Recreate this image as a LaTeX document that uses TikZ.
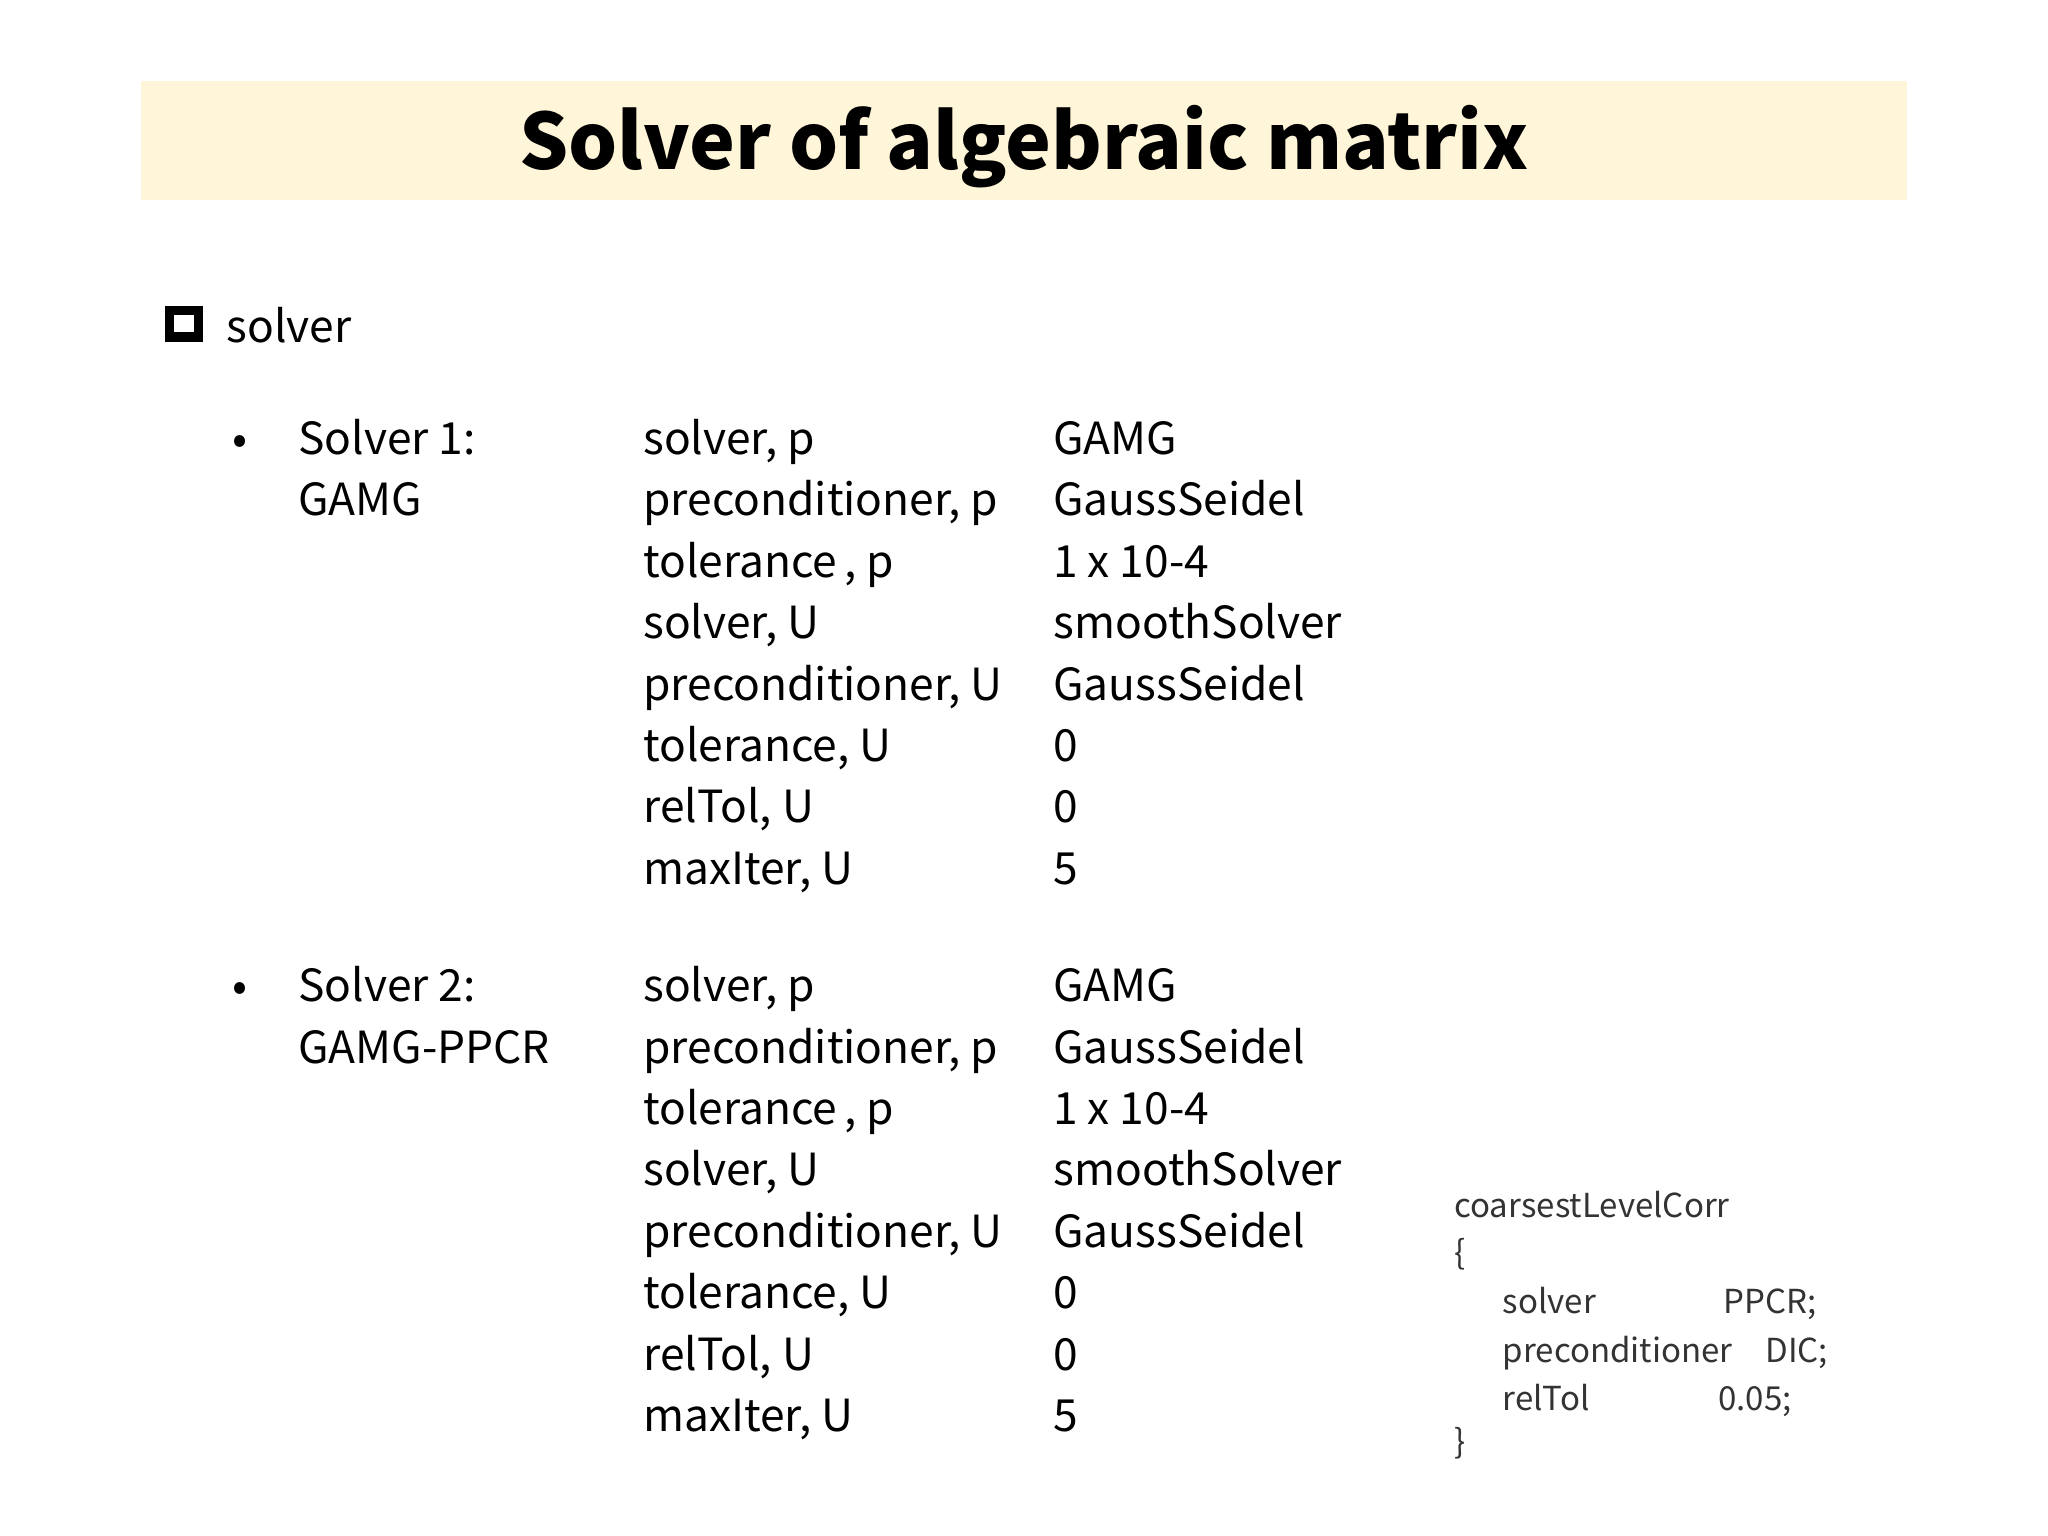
\documentclass[tikz,border=0pt]{standalone}
\usepackage{fontspec}
\setmainfont{Noto Sans CJK JP}
\definecolor{banner}{HTML}{FFF5D8}
\definecolor{codec}{HTML}{333333}
\begin{document}
\begin{tikzpicture}[x=0.013061cm,y=-0.013061cm,
  tx/.style={anchor=base west,inner sep=0pt,font=\fontsize{12.6}{14}\selectfont},
  cd/.style={anchor=base west,inner sep=0pt,text=codec,font=\fontsize{9.4}{11}\selectfont}]
\useasboundingbox (0,0) rectangle (1568,1176);
\fill[banner] (108,62) rectangle (1460,153);
\node[anchor=base,inner sep=0pt,font=\fontsize{22}{26}\selectfont\bfseries] (title) at (784,130) {Solver of algebraic matrix};
\draw[line width=2.6pt] (130,238) rectangle (152,258);
\node[tx] (hd) at (173,262) {solver};
\foreach \o/\a/\b in {0/{Solver 1:}/GAMG, 419/{Solver 2:}/GAMG-PPCR}{
  \node[anchor=base,inner sep=0pt,font=\fontsize{12.6}{14}\selectfont] at (184,348+\o) {•};
  \node[tx] at (228,348+\o) {\a};
  \node[tx] at (228,395+\o) {\b};
  \foreach \i/\p/\v in {0/{solver, p}/GAMG,1/{preconditioner, p}/GaussSeidel,2/{tolerance\,, p}/{1 x 10-4},3/{solver, U}/smoothSolver,4/{preconditioner, U}/GaussSeidel,5/{tolerance, U}/0,6/{relTol, U}/0,7/{maxIter, U}/5}{
    \node[tx] at (492,348+\o+\i*47) {\p};
    \node[tx] at (806,348+\o+\i*47) {\v};
  }
}
\node[cd] (c0) at (1113,932) {coarsestLevelCorr};
\node[cd] (c1) at (1113,968) {\{};
\node[cd] (c2) at (1150,1006) {solver};
\node[cd] (c2v) at (1319,1006) {PPCR;};
\node[cd] (c3) at (1150,1043) {preconditioner};
\node[cd] (c3v) at (1351,1043) {DIC;};
\node[cd] (c4) at (1150,1080) {relTol};
\node[cd] (c4v) at (1315,1080) {0.05;};
\node[cd] (c5) at (1113,1113) {\}};
\end{tikzpicture}
\end{document}
